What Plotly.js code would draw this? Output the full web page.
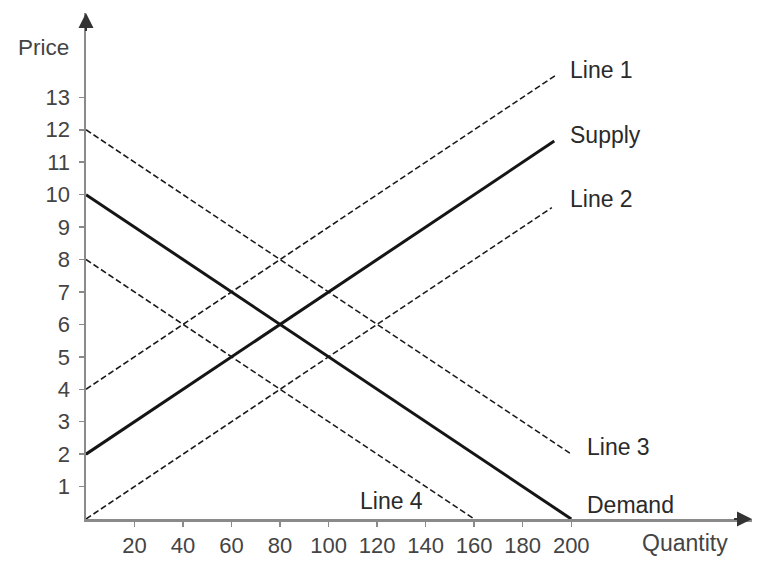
<!DOCTYPE html>
<html><head><meta charset="utf-8">
<script src="https://cdn.plot.ly/plotly-3.0.1.min.js"></script>
<style>html,body{margin:0;padding:0;background:#fff}#chart{width:770px;height:588px}</style>
</head><body><div id="chart"></div>
<script>
// Data
const supplyX = [0, 193];
const supplyY = [2, 11.65];
const demandX = [0, 200];
const demandY = [10, 0];
const line1X = [0, 194];
const line1Y = [4, 13.7];
const line2X = [0, 192];
const line2Y = [0, 9.6];
const line3X = [0, 200];
const line3Y = [12, 2];
const line4X = [0, 160];
const line4Y = [8, 0];
const xTicks = [20, 40, 60, 80, 100, 120, 140, 160, 180, 200];
const yTicks = [1, 2, 3, 4, 5, 6, 7, 8, 9, 10, 11, 12, 13];

const labels = [
  {text: 'Line 1', x: 198.5, y: 13.85},
  {text: 'Supply', x: 198.5, y: 11.85},
  {text: 'Line 2', x: 198.5, y: 9.88},
  {text: 'Line 3', x: 205.5, y: 2.22},
  {text: 'Demand', x: 205.7, y: 0.44},
  {text: 'Line 4', x: 112, y: 0.56}
];

const solid = {color: '#151515', width: 3};
const dashed = {color: '#1a1a1a', width: 1.6, dash: '6px,3px'};
const traces = [
  {x: line1X, y: line1Y, line: dashed},
  {x: line2X, y: line2Y, line: dashed},
  {x: line3X, y: line3Y, line: dashed},
  {x: line4X, y: line4Y, line: dashed},
  {x: supplyX, y: supplyY, line: solid},
  {x: demandX, y: demandY, line: solid}
].map(t => Object.assign({type: 'scatter', mode: 'lines', hoverinfo: 'skip', showlegend: false, cliponaxis: false}, t));

const axisColor = '#8a8a8a';
const fam = 'Liberation Sans, Arial, sans-serif';
const tickFont = {family: fam, size: 22, color: '#444'};
const xMax = 274.5, yMax = 15.6;

const annotations = labels.map(l => ({
  text: l.text, x: l.x, y: l.y, xref: 'x', yref: 'y', showarrow: false,
  xanchor: 'left', yanchor: 'middle', font: {family: fam, size: 23, color: '#2a2a2a'}
}));
annotations.push({text: 'Price', xref: 'paper', yref: 'y', x: -0.022, y: 14.55, xanchor: 'right', yanchor: 'middle', showarrow: false,
  font: {family: fam, size: 22.5, color: '#444'}});
annotations.push({text: 'Quantity', xref: 'x', yref: 'paper', x: 247, y: -0.048, xanchor: 'center', yanchor: 'middle', showarrow: false,
  font: {family: fam, size: 23, color: '#444'}});
annotations.push({x: xMax, y: 0, ax: xMax - 8, ay: 0, xref: 'x', yref: 'y', axref: 'x', ayref: 'y', text: '',
  showarrow: true, arrowhead: 2, arrowsize: 1.5, arrowwidth: 2, arrowcolor: '#333'});
annotations.push({x: 0, y: yMax, ax: 0, ay: yMax - 0.6, xref: 'x', yref: 'y', axref: 'x', ayref: 'y', text: '',
  showarrow: true, arrowhead: 2, arrowsize: 1.5, arrowwidth: 2, arrowcolor: '#333'});

const layout = {
  width: 770, height: 588,
  margin: {l: 86, r: 18, t: 13, b: 69},
  paper_bgcolor: '#fff', plot_bgcolor: '#fff',
  showlegend: false,
  xaxis: {range: [0, xMax], tickvals: xTicks, ticktext: xTicks.map(String), showgrid: false, zeroline: false,
    showline: true, linecolor: axisColor, linewidth: 2.5, ticks: 'outside', ticklen: 5, tickcolor: axisColor, tickwidth: 1.5,
    tickfont: tickFont, fixedrange: true},
  yaxis: {range: [0, yMax], tickvals: yTicks, ticktext: yTicks.map(String), showgrid: false, zeroline: false,
    showline: true, linecolor: axisColor, linewidth: 2.5, ticks: 'outside', ticklen: 5, tickcolor: axisColor, tickwidth: 1.5,
    tickfont: tickFont, ticklabelstandoff: 4, fixedrange: true},
  annotations: annotations
};

Plotly.newPlot('chart', traces, layout, {displayModeBar: false, staticPlot: true});
</script></body></html>
